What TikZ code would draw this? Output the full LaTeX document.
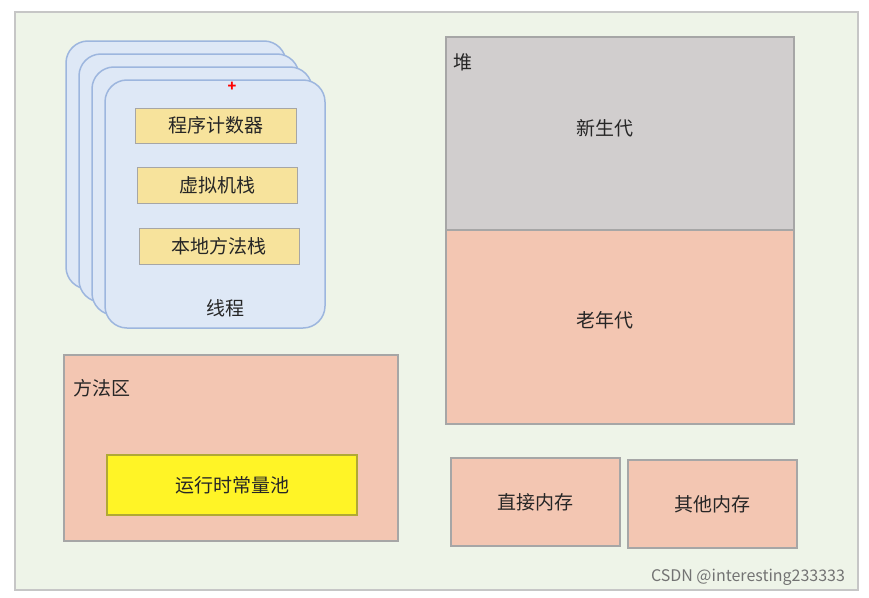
\documentclass[tikz,border=0pt]{standalone}
\usepackage{fontspec}
\setmainfont{Noto Sans CJK SC}
\definecolor{bg}{HTML}{EEF4E8}
\definecolor{thfill}{HTML}{DEE8F6}
\definecolor{thdraw}{HTML}{9DB6DE}
\definecolor{sal}{HTML}{F3C6B2}
\definecolor{yb}{HTML}{F7E39C}
\definecolor{hg}{HTML}{D1CECE}
\begin{document}
\begin{tikzpicture}[x=1pt,y=-1pt,
  thread/.style={draw=thdraw,fill=thfill,line width=1.5pt,rounded corners=22pt},
  ybox/.style={draw=gray!70,fill=yb,line width=0.8pt},
  salmon/.style={draw=gray!70,fill=sal,line width=1.2pt},
  lbl/.style={font=\fontsize{19}{22}\selectfont,text=black!85}]
\useasboundingbox (0,0) rectangle (869,597);
\fill[white] (0,0) rectangle (869,597);
\draw[gray!45,fill=bg,line width=1.5pt] (15,12) rectangle (858,590);
% threads
\foreach \d in {39,26,13,0}
  \draw[thread] (105-\d,80-\d) rectangle (325-\d,328-\d);
\node[red,font=\bfseries\Large] (plus) at (232,87) {+};
\node[ybox,lbl,minimum width=161pt,minimum height=35pt] (pc) at (215.5,125.5) {程序计数器};
\node[ybox,lbl,minimum width=160pt,minimum height=36pt] (vm) at (217,185) {虚拟机栈};
\node[ybox,lbl,minimum width=160pt,minimum height=36pt] (nm) at (219,246) {本地方法栈};
\node[lbl] (th) at (225,308) {线程};
% method area
\draw[salmon] (64,355) rectangle (398,541);
\node[lbl,anchor=west] (ma) at (70,388) {方法区};
\node[draw=olive!70,fill=yellow!85!white,line width=1.2pt,lbl,minimum width=250pt,minimum height=60pt] (rcp) at (232,485) {运行时常量池};
% heap
\draw[gray!70,fill=hg,line width=1.2pt] (446,37) rectangle (794,230);
\draw[salmon] (446,230) rectangle (794,424);
\node[lbl,anchor=west] (heap) at (450,62) {堆};
\node[lbl] (young) at (605,128) {新生代};
\node[lbl] (old) at (605,320) {老年代};
\node[salmon,lbl,minimum width=169pt,minimum height=88pt] (dm) at (535.5,502) {直接内存};
\node[salmon,lbl,minimum width=169pt,minimum height=88pt] (om) at (712.5,504) {其他内存};
\node[gray!90!black,font=\fontsize{16}{18}\selectfont] (wm) at (748,577) {CSDN @interesting233333};
\end{tikzpicture}
\end{document}
